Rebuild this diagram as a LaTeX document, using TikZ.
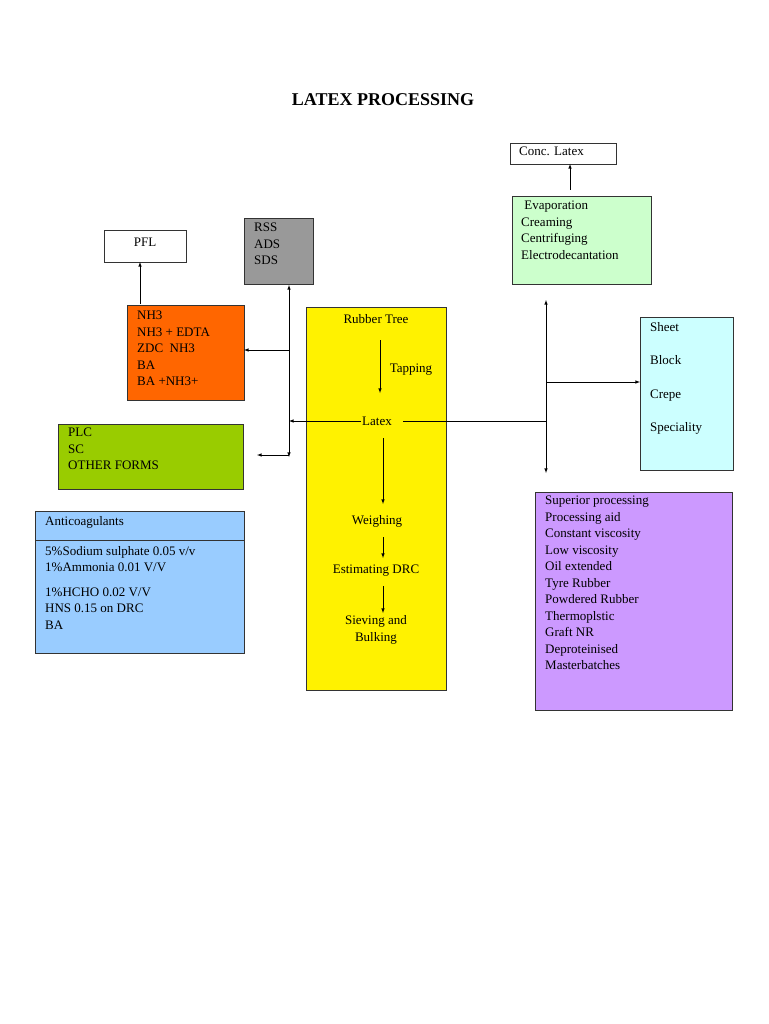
\documentclass[tikz,border=0pt]{standalone}
\usepackage{fontspec}
\setmainfont{Liberation Serif}
\begin{document}
\begin{tikzpicture}[x=1pt,y=-1pt,
  box/.style={draw=black!80,line width=0.6pt},
  t/.style={font=\fontsize{13}{16.5}\selectfont,align=left,anchor=north west,inner sep=0pt},
  ct/.style={font=\fontsize{13}{16.5}\selectfont,align=center,inner sep=1pt},
  ar/.style={-latex,line width=0.6pt}]
\useasboundingbox (0,0) rectangle (768,1024);
\fill[white] (0,0) rectangle (768,1024);
\node[font=\bfseries\fontsize{18}{20}\selectfont] (title) at (383,100) {LATEX PROCESSING};
% boxes
\draw[box,fill=white] (510,143) rectangle (616,164);
\node[t] (conc) at (519,147) {Conc. Latex};
\draw[box,fill={rgb,255:red,204;green,255;blue,204}] (512,196) rectangle (651,284);
\node[t] (evap) at (521,201) {\ Evaporation\\Creaming\\Centrifuging\\Electrodecantation};
\draw[box,fill=white] (104,230) rectangle (186,262);
\node[ct] (pfl) at (145,242) {PFL};
\draw[box,fill={rgb,255:red,153;green,153;blue,153}] (244,218) rectangle (313,284);
\node[t] (rss) at (254,223) {RSS\\ADS\\SDS};
\draw[box,fill={rgb,255:red,255;green,102;blue,0}] (127,305) rectangle (244,400);
\node[t] (nh) at (137,311) {NH3\\NH3 + EDTA\\ZDC\ \ NH3\\BA\\BA +NH3+};
\draw[box,fill=yellow] (306,307) rectangle (446,690);
\draw[box,fill={rgb,255:red,204;green,255;blue,255}] (640,317) rectangle (733,470);
\node[t,font=\fontsize{13}{33.5}\selectfont] (sheet) at (650,322) {Sheet\\Block\\Crepe\\Speciality};
\draw[box,fill={rgb,255:red,153;green,204;blue,0}] (58,424) rectangle (243,489);
\node[t] (plc) at (68,428) {PLC\\SC\\OTHER FORMS};
\draw[box,fill={rgb,255:red,153;green,204;blue,255}] (35,511) rectangle (244,653);
\draw[box] (35,540) -- (244,540);
\node[t] (anti) at (45,516) {Anticoagulants};
\node[t] (sod) at (45,546) {5\%Sodium sulphate 0.05 v/v\\1\%Ammonia 0.01 V/V\\[8pt]1\%HCHO 0.02 V/V\\HNS 0.15 on DRC\\BA};
\draw[box,fill={rgb,255:red,204;green,153;blue,255}] (535,492) rectangle (732,710);
\node[t] (sup) at (545,496) {Superior processing\\Processing aid\\Constant viscosity\\Low viscosity\\Oil extended\\Tyre Rubber\\Powdered Rubber\\Thermoplstic\\Graft NR\\Deproteinised\\Masterbatches};
% yellow contents
\node[ct] (tree) at (376,319) {Rubber Tree};
\node[ct] (tap) at (411,370) {Tapping};
\node[ct] (latex) at (377,421) {Latex};
\node[ct] (weigh) at (377,521) {Weighing};
\node[ct] (drc) at (376,571) {Estimating DRC};
\node[ct] (siev) at (376,630) {Sieving and\\Bulking};
% coordinates
\coordinate (lx) at (289,421);
\coordinate (ltop) at (289,285);
\coordinate (lbot) at (289,457);
\coordinate (lmid) at (289,350);
\coordinate (rx) at (546,421);
\coordinate (rtop) at (546,300);
\coordinate (rbot) at (546,473);
\coordinate (rmid) at (546,382);
% arrows
\draw[ar] (570,190) -- (570,164);
\draw[ar] (140,304) -- (140,262);
\draw[ar] (380,340) -- (380,393);
\draw[ar] (latex.west) -- (lx);
\draw[ar] (lx) -- (ltop);
\draw[ar] (lx) -- (lbot);
\draw[ar] (lmid) -- (244,350);
\draw[ar] (289,455) -- (257,455);
\draw[line width=0.6pt] (latex.east) ++(10,0) -- (rx);
\draw[ar] (rx) -- (rtop);
\draw[ar] (rx) -- (rbot);
\draw[ar] (rmid) -- (640,382);
\draw[ar] (383,438) -- (383,504);
\draw[ar] (383,537) -- (383,558);
\draw[ar] (383,586) -- (383,613);
\end{tikzpicture}
\end{document}
